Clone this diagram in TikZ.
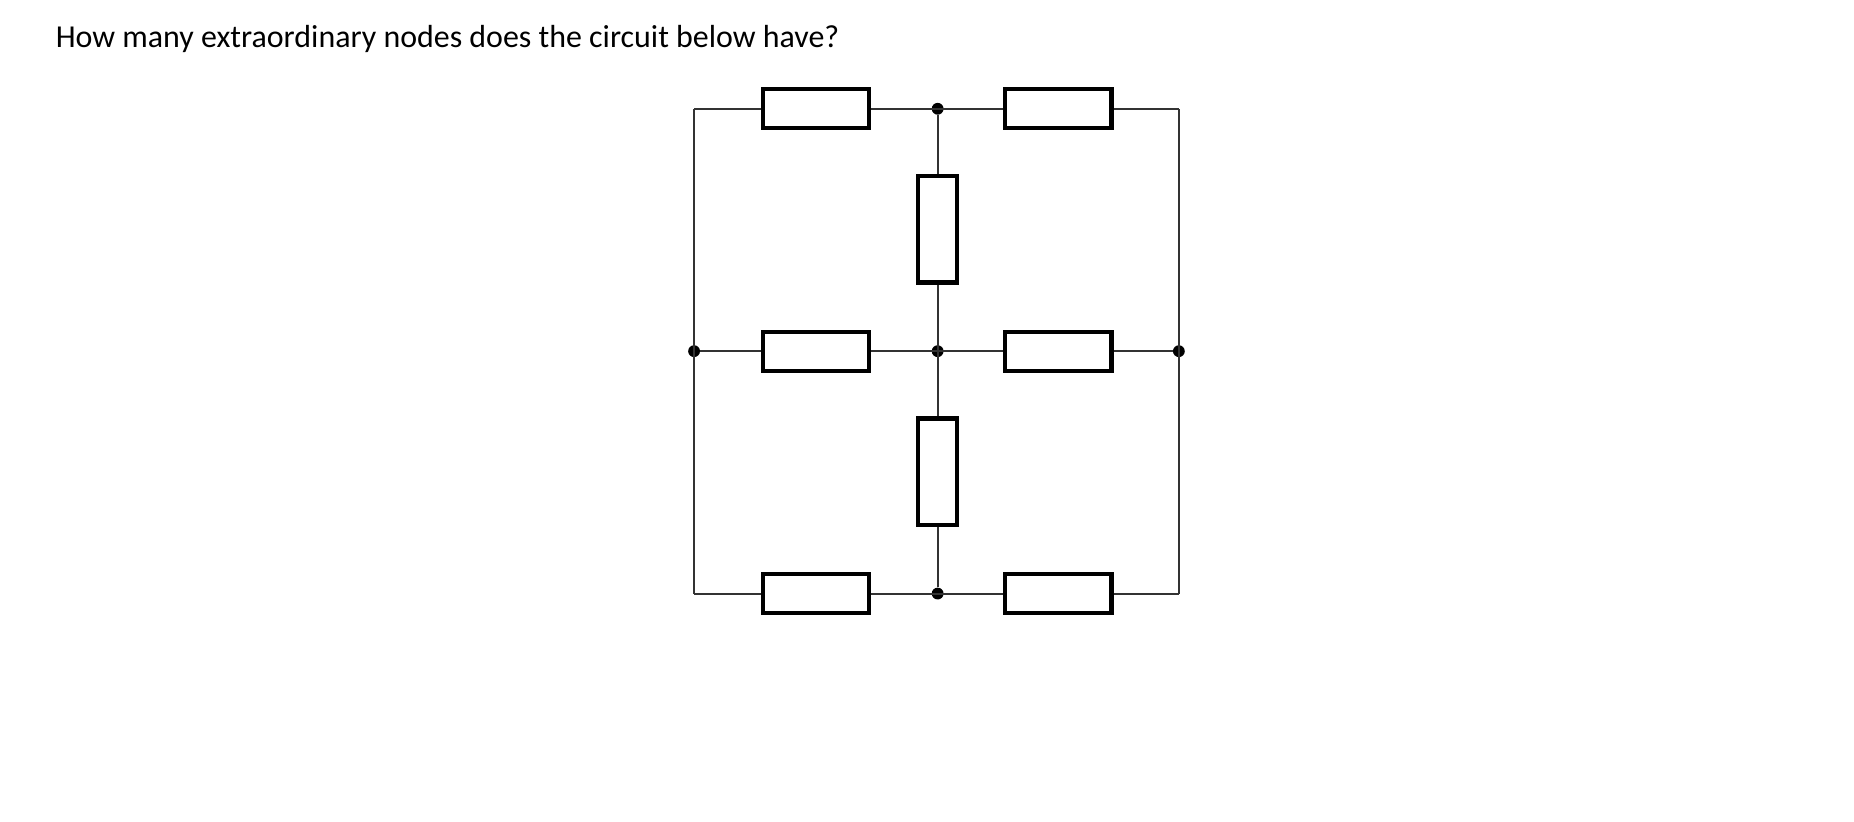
\documentclass[tikz,border=0pt]{standalone}
\usepackage{fontspec}
\setmainfont{Carlito}
\begin{document}
\begin{tikzpicture}[x=1pt,y=-1pt,
  wire/.style={line width=1.6pt,draw=black!80},
  res/.style={draw=black,line width=3.6pt,fill=white,minimum width=90pt,minimum height=33pt,inner sep=0pt},
  vres/.style={res,minimum width=33pt,minimum height=90pt},
  dot/.style={circle,fill=black,inner sep=0pt,minimum size=10pt}]
\useasboundingbox (0,0) rectangle (1568,695);
\node[anchor=base west,inner sep=0pt,font=\fontsize{27}{30}\selectfont] (q) at (47,40) {How many extraordinary nodes does the circuit below have?};
\coordinate (tl) at (587,92); \coordinate (tr) at (997,92);
\coordinate (bl) at (587,502); \coordinate (br) at (997,502);
\node[dot] (ml) at (587,297) {}; \node[dot] (mc) at (793,297) {}; \node[dot] (mr) at (997,297) {};
\node[dot] (tc) at (793,92) {}; \node[dot] (bc) at (793,502) {};
\draw[wire] (tl) -- (tr) (bl) -- (br) (tl) -- (bl) (tr) -- (br) (ml) -- (mr) (tc) -- (bc);
\node[res] (r1) at (690,92) {}; \node[res] (r2) at (895,92) {};
\node[res] (r3) at (690,297) {}; \node[res] (r4) at (895,297) {};
\node[res] (r5) at (690,502) {}; \node[res] (r6) at (895,502) {};
\node[vres] (r7) at (793,194) {}; \node[vres] (r8) at (793,399) {};
\end{tikzpicture}
\end{document}
